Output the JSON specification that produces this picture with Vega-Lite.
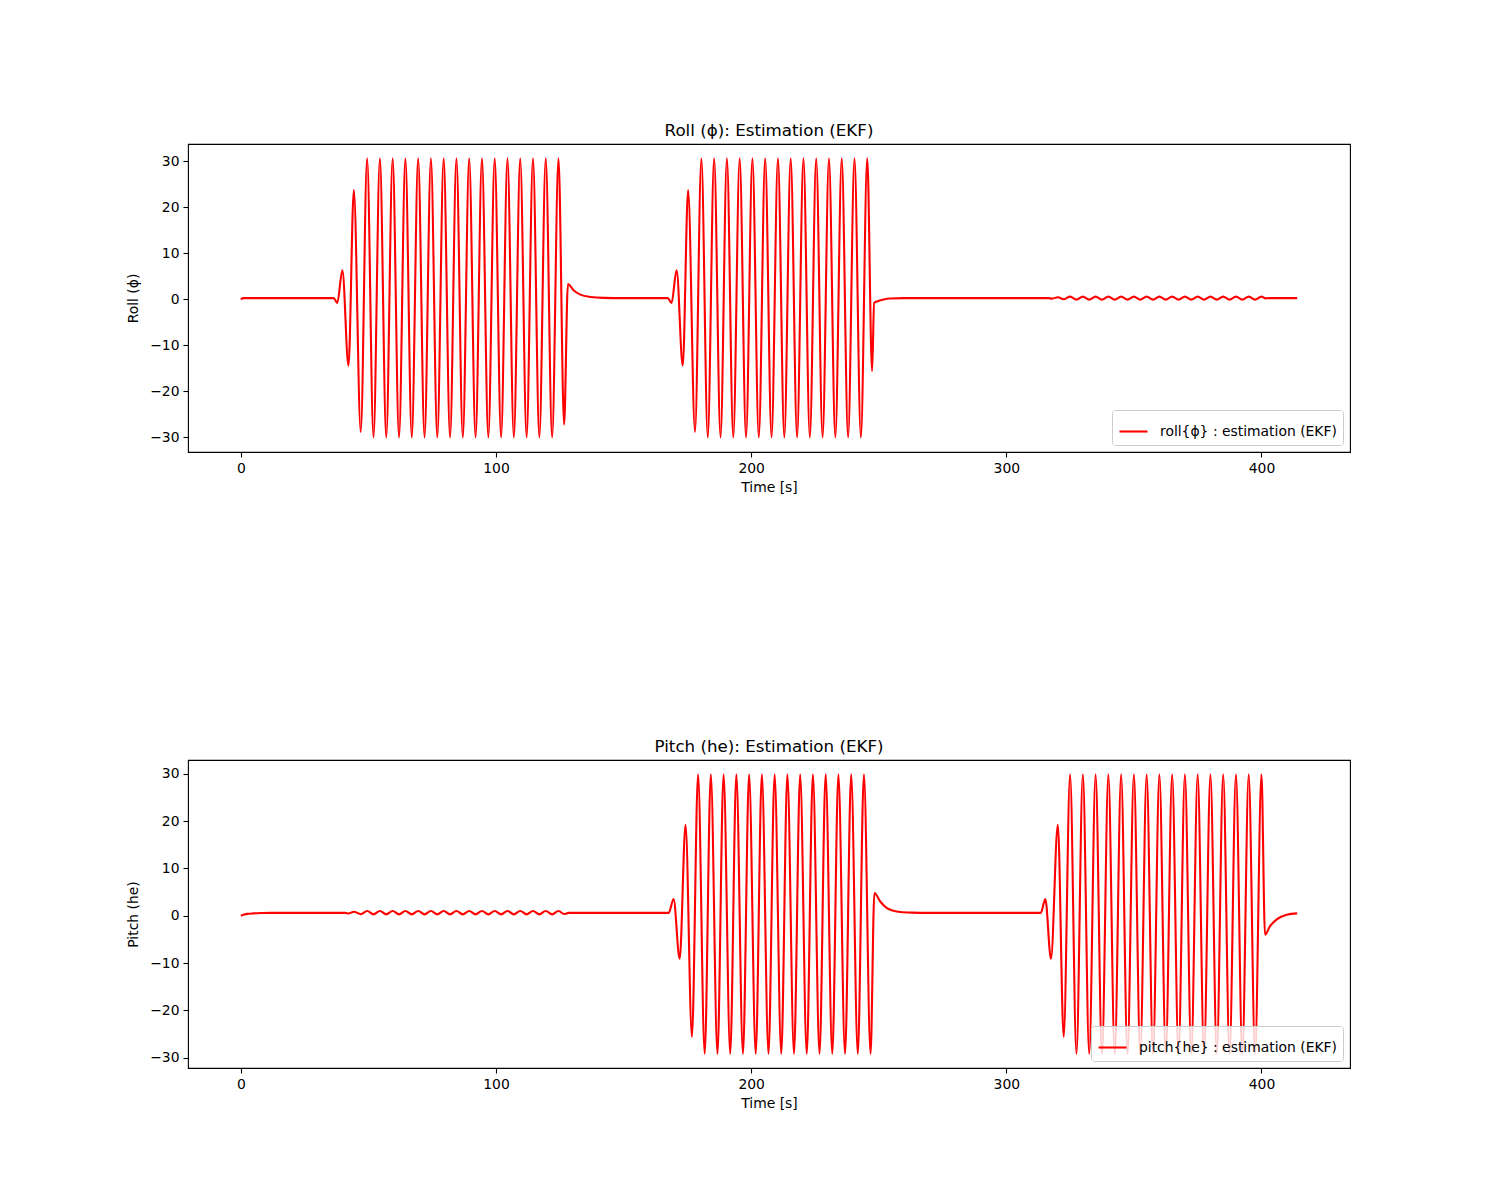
{
"$schema": "https://vega.github.io/schema/vega-lite/v6.json",
"background": "white",
"padding": {"left": 126, "top": 122, "right": 0, "bottom": 0},
"spacing": 242,
"config": {
  "font": "DejaVu Sans",
  "view": {"stroke": "black", "strokeWidth": 1.1},
  "axis": {"domain": false, "grid": false, "ticks": true, "tickColor": "black", "tickWidth": 1.1, "tickSize": 5, "labelFontSize": 13.9, "labelColor": "black", "labelPadding": 4, "titleFontSize": 13.9, "titleFontWeight": "normal", "titleColor": "black", "titlePadding": 6},
  "axisY": {"titlePadding": 9},
  "title": {"fontSize": 16.7, "fontWeight": "normal", "color": "black", "offset": 4, "anchor": "middle", "frame": "group"},
  "legend": {"orient": "bottom-right", "offset": 7, "strokeColor": "#cccccc", "fillColor": "rgba(255,255,255,0.8)", "cornerRadius": 3, "padding": 6, "symbolType": "stroke", "symbolStrokeWidth": 2.1, "symbolSize": 784, "labelFontSize": 13.9, "labelColor": "black", "labelOffset": 11, "labelLimit": 500, "titlePadding": 0}
},
"datasets": {
"roll": [
{"t":0,"v":0},{"t":1,"v":0.25},{"t":36.4,"v":0.25},{"t":37.8,"v":-0.8},{"t":39.8,"v":6.3},{"t":42.2,"v":-14.4},{"t":44.3,"v":23.7},{"t":47,"v":-28.8},
{"t":49.5,"v":30.6},{"t":52,"v":-30},{"t":54.5,"v":30.6},{"t":57,"v":-30},{"t":59.5,"v":30.6},{"t":62,"v":-30},{"t":64.5,"v":30.6},{"t":67,"v":-30},{"t":69.5,"v":30.6},{"t":72,"v":-30},{"t":74.5,"v":30.6},{"t":77,"v":-30},{"t":79.5,"v":30.6},{"t":82,"v":-30},{"t":84.5,"v":30.6},{"t":87,"v":-30},{"t":89.5,"v":30.6},{"t":92,"v":-30},{"t":94.5,"v":30.6},{"t":97,"v":-30},{"t":99.5,"v":30.6},{"t":102,"v":-30},{"t":104.5,"v":30.6},{"t":107,"v":-30},{"t":109.5,"v":30.6},{"t":112,"v":-30},{"t":114.5,"v":30.6},{"t":117,"v":-30},{"t":119.5,"v":30.6},{"t":122,"v":-30},{"t":124.5,"v":30.6},{"t":126.7,"v":-27.2},{"t":128.2,"v":3.3},{"t":130.4,"v":1.96},{"t":133.1,"v":1.0},{"t":137,"v":0.5},{"t":142.2,"v":0.3},{"t":150,"v":0.25},
{"t":167.3,"v":0.25},{"t":168.8,"v":-0.8},{"t":170.8,"v":6.3},{"t":173.2,"v":-14.4},{"t":175.3,"v":23.7},{"t":178,"v":-28.8},
{"t":180.5,"v":30.6},{"t":183,"v":-30},{"t":185.5,"v":30.6},{"t":188,"v":-30},{"t":190.5,"v":30.6},{"t":193,"v":-30},{"t":195.5,"v":30.6},{"t":198,"v":-30},{"t":200.5,"v":30.6},{"t":203,"v":-30},{"t":205.5,"v":30.6},{"t":208,"v":-30},{"t":210.5,"v":30.6},{"t":213,"v":-30},{"t":215.5,"v":30.6},{"t":218,"v":-30},{"t":220.5,"v":30.6},{"t":223,"v":-30},{"t":225.5,"v":30.6},{"t":228,"v":-30},{"t":230.5,"v":30.6},{"t":233,"v":-30},{"t":235.5,"v":30.6},{"t":238,"v":-30},{"t":240.5,"v":30.6},{"t":243,"v":-30},{"t":245.5,"v":30.6},{"t":247.4,"v":-15.6},{"t":248.2,"v":-0.8},{"t":249.3,"v":-0.5},{"t":251.9,"v":-0.07},{"t":254.5,"v":0.15},{"t":260,"v":0.25},
{"t":316.5,"v":0.25},{"t":318,"v":0.15},{"t":320.2,"v":0.45},{"t":322.5,"v":0.0},{"t":325,"v":0.58},{"t":327.5,"v":-0.08},{"t":330,"v":0.58},{"t":332.5,"v":-0.08},{"t":335,"v":0.58},{"t":337.5,"v":-0.08},{"t":340,"v":0.58},{"t":342.5,"v":-0.08},{"t":345,"v":0.58},{"t":347.5,"v":-0.08},{"t":350,"v":0.58},{"t":352.5,"v":-0.08},{"t":355,"v":0.58},{"t":357.5,"v":-0.08},{"t":360,"v":0.58},{"t":362.5,"v":-0.08},{"t":365,"v":0.58},{"t":367.5,"v":-0.08},{"t":370,"v":0.58},{"t":372.5,"v":-0.08},{"t":375,"v":0.58},{"t":377.5,"v":-0.08},{"t":380,"v":0.58},{"t":382.5,"v":-0.08},{"t":385,"v":0.58},{"t":387.5,"v":-0.08},{"t":390,"v":0.58},{"t":392.5,"v":-0.08},{"t":395,"v":0.58},{"t":397.5,"v":-0.08},{"t":400,"v":0.58},{"t":401.5,"v":0.2},{"t":403,"v":0.25},{"t":414,"v":0.25}
],
"pitch": [
{"t":0,"v":0},{"t":1,"v":0.2},{"t":2.5,"v":0.38},{"t":5,"v":0.5},{"t":8,"v":0.57},{"t":12,"v":0.6},{"t":41,"v":0.6},{"t":42.2,"v":0.45},{"t":44.3,"v":0.85},{"t":47,"v":0.32},
{"t":49.5,"v":1.0},{"t":52,"v":0.28},{"t":54.5,"v":1.0},{"t":57,"v":0.28},{"t":59.5,"v":1.0},{"t":62,"v":0.28},{"t":64.5,"v":1.0},{"t":67,"v":0.28},{"t":69.5,"v":1.0},{"t":72,"v":0.28},{"t":74.5,"v":1.0},{"t":77,"v":0.28},{"t":79.5,"v":1.0},{"t":82,"v":0.28},{"t":84.5,"v":1.0},{"t":87,"v":0.28},{"t":89.5,"v":1.0},{"t":92,"v":0.28},{"t":94.5,"v":1.0},{"t":97,"v":0.28},{"t":99.5,"v":1.0},{"t":102,"v":0.28},{"t":104.5,"v":1.0},{"t":107,"v":0.28},{"t":109.5,"v":1.0},{"t":112,"v":0.28},{"t":114.5,"v":1.0},{"t":117,"v":0.28},{"t":119.5,"v":1.0},{"t":122,"v":0.28},{"t":124.5,"v":1.0},{"t":126.7,"v":0.35},{"t":128.5,"v":0.6},
{"t":167.7,"v":0.6},{"t":169.6,"v":3.5},{"t":172,"v":-9.1},{"t":174.3,"v":19.2},{"t":176.8,"v":-25.6},
{"t":179.2,"v":29.9},{"t":181.8,"v":-29.2},{"t":184.2,"v":29.9},{"t":186.8,"v":-29.2},{"t":189.2,"v":29.9},{"t":191.8,"v":-29.2},{"t":194.2,"v":29.9},{"t":196.8,"v":-29.2},{"t":199.2,"v":29.9},{"t":201.8,"v":-29.2},{"t":204.2,"v":29.9},{"t":206.8,"v":-29.2},{"t":209.2,"v":29.9},{"t":211.8,"v":-29.2},{"t":214.2,"v":29.9},{"t":216.8,"v":-29.2},{"t":219.2,"v":29.9},{"t":221.8,"v":-29.2},{"t":224.2,"v":29.9},{"t":226.8,"v":-29.2},{"t":229.2,"v":29.9},{"t":231.8,"v":-29.2},{"t":234.2,"v":29.9},{"t":236.8,"v":-29.2},{"t":239.2,"v":29.9},{"t":241.8,"v":-29.2},{"t":244.2,"v":29.9},{"t":246.8,"v":-29.2},
{"t":248.3,"v":4.8},{"t":250.6,"v":3.0},{"t":253.2,"v":1.6},{"t":255.8,"v":1.05},{"t":258.4,"v":0.78},{"t":263,"v":0.65},{"t":270,"v":0.6},
{"t":313.5,"v":0.6},{"t":315.3,"v":3.5},{"t":317.5,"v":-9.1},{"t":320.2,"v":19.2},{"t":322.5,"v":-25.6},
{"t":325,"v":29.9},{"t":327.5,"v":-29.2},{"t":330,"v":29.9},{"t":332.5,"v":-29.2},{"t":335,"v":29.9},{"t":337.5,"v":-29.2},{"t":340,"v":29.9},{"t":342.5,"v":-29.2},{"t":345,"v":29.9},{"t":347.5,"v":-29.2},{"t":350,"v":29.9},{"t":352.5,"v":-29.2},{"t":355,"v":29.9},{"t":357.5,"v":-29.2},{"t":360,"v":29.9},{"t":362.5,"v":-29.2},{"t":365,"v":29.9},{"t":367.5,"v":-29.2},{"t":370,"v":29.9},{"t":372.5,"v":-29.2},{"t":375,"v":29.9},{"t":377.5,"v":-29.2},{"t":380,"v":29.9},{"t":382.5,"v":-29.2},{"t":385,"v":29.9},{"t":387.5,"v":-29.2},{"t":390,"v":29.9},{"t":392.5,"v":-29.2},{"t":395,"v":29.9},{"t":397.5,"v":-29.2},{"t":400,"v":29.9},{"t":401.4,"v":-4.0},{"t":403.3,"v":-2.25},{"t":406,"v":-0.77},{"t":409.9,"v":0.2},{"t":414,"v":0.5}
]
},
"vconcat": [
{
  "width": 1162, "height": 308,
  "title": "Roll (ϕ): Estimation (EKF)",
  "data": {"name": "roll"},
  "mark": {"type": "line", "interpolate": "monotone", "strokeWidth": 2.1, "clip": true},
  "encoding": {
    "x": {"field": "t", "type": "quantitative", "title": "Time [s]", "scale": {"domain": [-20.7, 434.7], "nice": false, "zero": false}, "axis": {"values": [0, 100, 200, 300, 400], "format": "d"}},
    "y": {"field": "v", "type": "quantitative", "title": "Roll (ϕ)", "scale": {"domain": [-33.15, 33.7], "nice": false, "zero": false}, "axis": {"values": [-30, -20, -10, 0, 10, 20, 30], "format": "d"}},
    "color": {"datum": "roll{ϕ} : estimation (EKF)", "type": "nominal", "scale": {"range": ["red"]}, "legend": {"title": null}}
  }
},
{
  "width": 1162, "height": 308,
  "title": "Pitch (he): Estimation (EKF)",
  "data": {"name": "pitch"},
  "mark": {"type": "line", "interpolate": "monotone", "strokeWidth": 2.1, "clip": true},
  "encoding": {
    "x": {"field": "t", "type": "quantitative", "title": "Time [s]", "scale": {"domain": [-20.7, 434.7], "nice": false, "zero": false}, "axis": {"values": [0, 100, 200, 300, 400], "format": "d"}},
    "y": {"field": "v", "type": "quantitative", "title": "Pitch (he)", "scale": {"domain": [-32.18, 32.9], "nice": false, "zero": false}, "axis": {"values": [-30, -20, -10, 0, 10, 20, 30], "format": "d"}},
    "color": {"datum": "pitch{he} : estimation (EKF)", "type": "nominal", "scale": {"range": ["red"]}, "legend": {"title": null}}
  }
}
],
"resolve": {"scale": {"color": "independent", "x": "independent", "y": "independent"}, "legend": {"color": "independent"}}
}
